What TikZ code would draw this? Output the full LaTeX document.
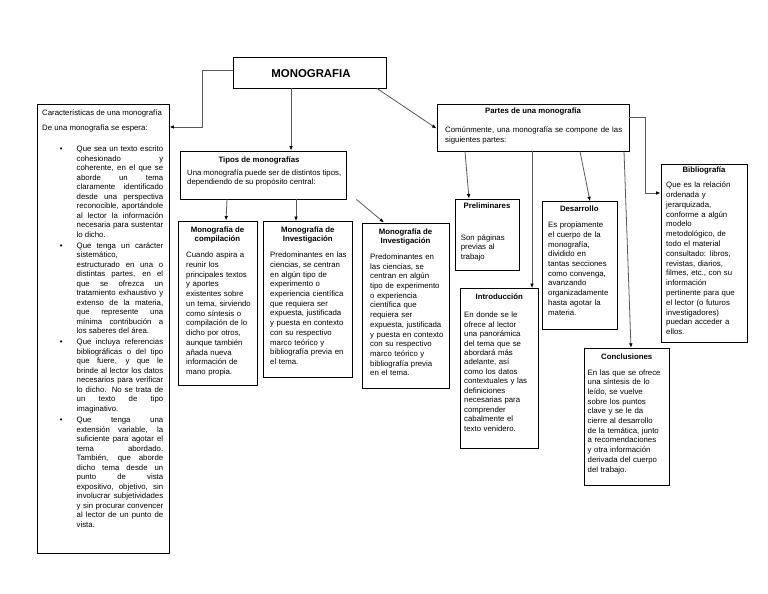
\documentclass[tikz,border=0pt]{standalone}
\usepackage{fontspec}
\setmainfont{Liberation Sans}
\usetikzlibrary{arrows.meta}
\newcommand\myfnt[1]{\fontsize{7.8}{#1}\selectfont}
\newcommand\fst{\rule{0pt}{7pt}}
\newcommand\mybul{\leavevmode\llap{\makebox[2.7pt]{•}\hspace{14pt}}}
\hyphenpenalty=10000
\exhyphenpenalty=10000
\tolerance=10000
\hbadness=10000
\begin{document}
\begin{tikzpicture}[x=1pt,y=-1pt,
  box/.style={draw=black, line width=0.9pt, inner sep=0pt},
  conn/.style={draw=black!65, line width=0.8pt, -{Latex[length=4.5pt,width=3.6pt,color=black]}},
  tx/.style={anchor=north west, inner sep=0pt, text width=120pt, align=left},
  ttl/.style={anchor=base, inner sep=0pt, font=\fontsize{7.8}{9}\selectfont\bfseries},
  ttl2/.style={anchor=north, inner sep=0pt, align=center, font=\fontsize{7.8}{9}\selectfont\bfseries},
  plain/.style={anchor=base west, inner sep=0pt, font=\myfnt{9.5}}]
\path[fill=white, use as bounding box] (0,0) rectangle (768,594);

% boxes
\node[box, minimum width=153pt, minimum height=31pt] (mono) at (309.5,72.5) {};
\node[box, minimum width=132pt, minimum height=449pt] (leftb) at (103,328.5) {};
\node[box, minimum width=166pt, minimum height=48pt] (tipos) at (263,175) {};
\node[box, minimum width=79pt, minimum height=164pt] (boxA) at (217.5,303) {};
\node[box, minimum width=89.5pt, minimum height=155.5pt] (boxB) at (307.75,299.25) {};
\node[box, minimum width=86.5pt, minimum height=165pt] (boxC) at (405.75,305.5) {};
\node[box, minimum width=192pt, minimum height=47pt] (partes) at (533,127.5) {};
\node[box, minimum width=64pt, minimum height=71pt] (prelim) at (487,234.5) {};
\node[box, minimum width=78.5pt, minimum height=160pt] (intro) at (499.25,368.5) {};
\node[box, minimum width=74.7pt, minimum height=127.8pt] (desa) at (579.65,265.6) {};
\node[box, minimum width=85.3pt, minimum height=136.7pt] (concl) at (626.65,416.65) {};
\node[box, minimum width=86.3pt, minimum height=178.7pt] (biblio) at (704.15,253.35) {};

% title
\node[anchor=base, inner sep=0pt, font=\fontsize{11.4}{13}\selectfont\bfseries] (tmono) at (311,77.4) {MONOGRAFIA};

% left box
\node[plain] (l1) at (42,115.8) {Características de una monografía};
\node[plain] (l2) at (42,130.8) {De una monografía se espera:};
\node[anchor=north west, inner sep=0pt, text width=86.5pt, align=justify, font=\myfnt{9.5}] (lbul) at (76.5,144.5) {\setlength{\parskip}{1.6pt}\setlength{\parindent}{0pt}%
\mybul\fst Que sea un texto escrito\linebreak cohesionado y\linebreak coherente, en el que se\linebreak aborde un tema\linebreak claramente identificado\linebreak desde una perspectiva\linebreak reconocible, aportándole\linebreak al lector la información\linebreak necesaria para sustentar\linebreak lo dicho.\par
\mybul Que tenga un carácter\linebreak sistemático,\linebreak estructurado en una o\linebreak distintas partes, en el\linebreak que se ofrezca un\linebreak tratamiento exhaustivo y\linebreak extenso de la materia,\linebreak que represente una\linebreak mínima contribución a\linebreak los saberes del área.\par
\mybul Que incluya referencias\linebreak bibliográficas o del tipo\linebreak que fuere, y que le\linebreak brinde al lector los datos\linebreak necesarios para verificar\linebreak lo dicho. No se trata de\linebreak un texto de tipo\linebreak imaginativo.\par
\mybul Que tenga una\linebreak extensión variable, la\linebreak suficiente para agotar el\linebreak tema abordado.\linebreak También, que aborde\linebreak dicho tema desde un\linebreak punto de vista\linebreak expositivo, objetivo, sin\linebreak involucrar subjetividades\linebreak y sin procurar convencer\linebreak al lector de un punto de\linebreak vista.\par};

% tipos
\node[ttl] (ttipos) at (259,162) {Tipos de monografías};
\node[anchor=north west, inner sep=0pt, text width=154pt, align=justify, font=\myfnt{9.4}] (btipos) at (187,167.8) {\fst Una monografía puede ser de distintos tipos,\linebreak dependiendo de su propósito central:};

\node[ttl2] (tA) at (217.5,224.8) {\fst Monografía de\\compilación};
\node[tx, font=\myfnt{9.75}] (bA) at (186,250.5) {\fst Cuando aspira a\\reunir los\\principales textos\\y aportes\\existentes sobre\\un tema, sirviendo\\como síntesis o\\compilación de lo\\dicho por otros,\\aunque también\\añada nueva\\información de\\mano propia.};

\node[ttl2] (tB) at (307.8,224.8) {\fst Monografía de\\Investigación};
\node[tx, font=\myfnt{9.7}] (bB) at (270,250.5) {\fst Predominantes en las\\ciencias, se centran\\en algún tipo de\\experimento o\\experiencia científica\\que requiera ser\\expuesta, justificada\\y puesta en contexto\\con su respectivo\\marco teórico y\\bibliografía previa en\\el tema.};

\node[ttl2] (tC) at (405.5,227.2) {\fst Monografía de\\Investigación};
\node[tx, font=\myfnt{9.7}] (bC) at (370,252.2) {\fst Predominantes en\\las ciencias, se\\centran en algún\\tipo de experimento\\o experiencia\\científica que\\requiera ser\\expuesta, justificada\\y puesta en contexto\\con su respectivo\\marco teórico y\\bibliografía previa\\en el tema.};

% partes
\node[ttl] (tpartes) at (533,113.5) {Partes de una monografía};
\node[anchor=north west, inner sep=0pt, text width=177pt, align=justify, font=\myfnt{10}] (bpartes) at (445,124.8) {\fst Comúnmente, una monografía se compone de las\linebreak siguientes partes:};

\node[ttl] (tprelim) at (487,208.5) {Preliminares};
\node[tx, font=\myfnt{9.6}] (bprelim) at (460.7,232.8) {\fst Son páginas\\previas al\\trabajo};

\node[ttl] (tintro) at (499.3,299.8) {Introducción};
\node[tx, font=\myfnt{9.45}] (bintro) at (464,310.5) {\fst En donde se le\\ofrece al lector\\una panorámica\\del tema que se\\abordará más\\adelante, así\\como los datos\\contextuales y las\\definiciones\\necesarias para\\comprender\\cabalmente el\\texto venidero.};

\node[ttl] (tdesa) at (579.3,211.8) {Desarrollo};
\node[tx, font=\myfnt{9.7}] (bdesa) at (548,220.5) {\fst Es propiamente\\el cuerpo de la\\monografía,\\dividido en\\tantas secciones\\como convenga,\\avanzando\\organizadamente\\hasta agotar la\\materia.};

\node[ttl] (tconcl) at (626.7,359.2) {Conclusiones};
\node[tx, font=\myfnt{9.7}] (bconcl) at (587.5,367.8) {\fst En las que se ofrece\\una síntesis de lo\\leído, se vuelve\\sobre los puntos\\clave y se le da\\cierre al desarrollo\\de la temática, junto\\a recomendaciones\\y otra información\\derivada del cuerpo\\del trabajo.};

\node[ttl] (tbiblio) at (704,172.5) {Bibliografía};
\node[tx, font=\myfnt{9.8}] (bbiblio) at (666,180.5) {\fst Que es la relación\\ordenada y\\jerarquizada,\\conforme a algún\\modelo\\metodológico, de\\todo el material\\consultado: libros,\\revistas, diarios,\\filmes, etc., con su\\información\\pertinente para que\\el lector (o futuros\\investigadores)\\puedan acceder a\\ellos.};

% connectors
\coordinate (k1) at (202.7,127);
\draw[conn] ([yshift=2.5pt]mono.west) -| (k1) -- (k1 -| leftb.east);
\coordinate (k2) at (291,0);
\draw[conn] (mono.south -| k2) -- (tipos.north -| k2);
\coordinate (k3) at (377,128.5);
\draw[conn] (mono.south -| k3) -- (partes.west |- k3);

\coordinate (k4a) at (227,0);
\coordinate (k4b) at (226,0);
\draw[conn] (tipos.south -| k4a) -- (boxA.north -| k4b);
\coordinate (k5) at (296,0);
\draw[conn] (tipos.south -| k5) -- (boxB.north -| k5);
\coordinate (k6a) at (356.5,0);
\coordinate (k6b) at (384,0);
\draw[conn] (tipos.south -| k6a) -- (boxC.north -| k6b);

\coordinate (k7a) at (465,0);
\coordinate (k7b) at (469,0);
\draw[conn] (partes.south -| k7a) -- (prelim.north -| k7b);
\coordinate (k8) at (532,0);
\draw[conn] (partes.south -| k8) -- (intro.north -| k8);
\coordinate (k9a) at (580,0);
\coordinate (k9b) at (590,0);
\draw[conn] (partes.south -| k9a) -- (desa.north -| k9b);
\coordinate (k10a) at (624,0);
\coordinate (k10b) at (631,0);
\draw[conn] (partes.south -| k10a) -- (concl.north -| k10b);
\coordinate (k11) at (645,193);
\draw[conn] ([yshift=10.5pt]partes.east) -| (k11) -- (k11 -| biblio.west);
\end{tikzpicture}
\end{document}
